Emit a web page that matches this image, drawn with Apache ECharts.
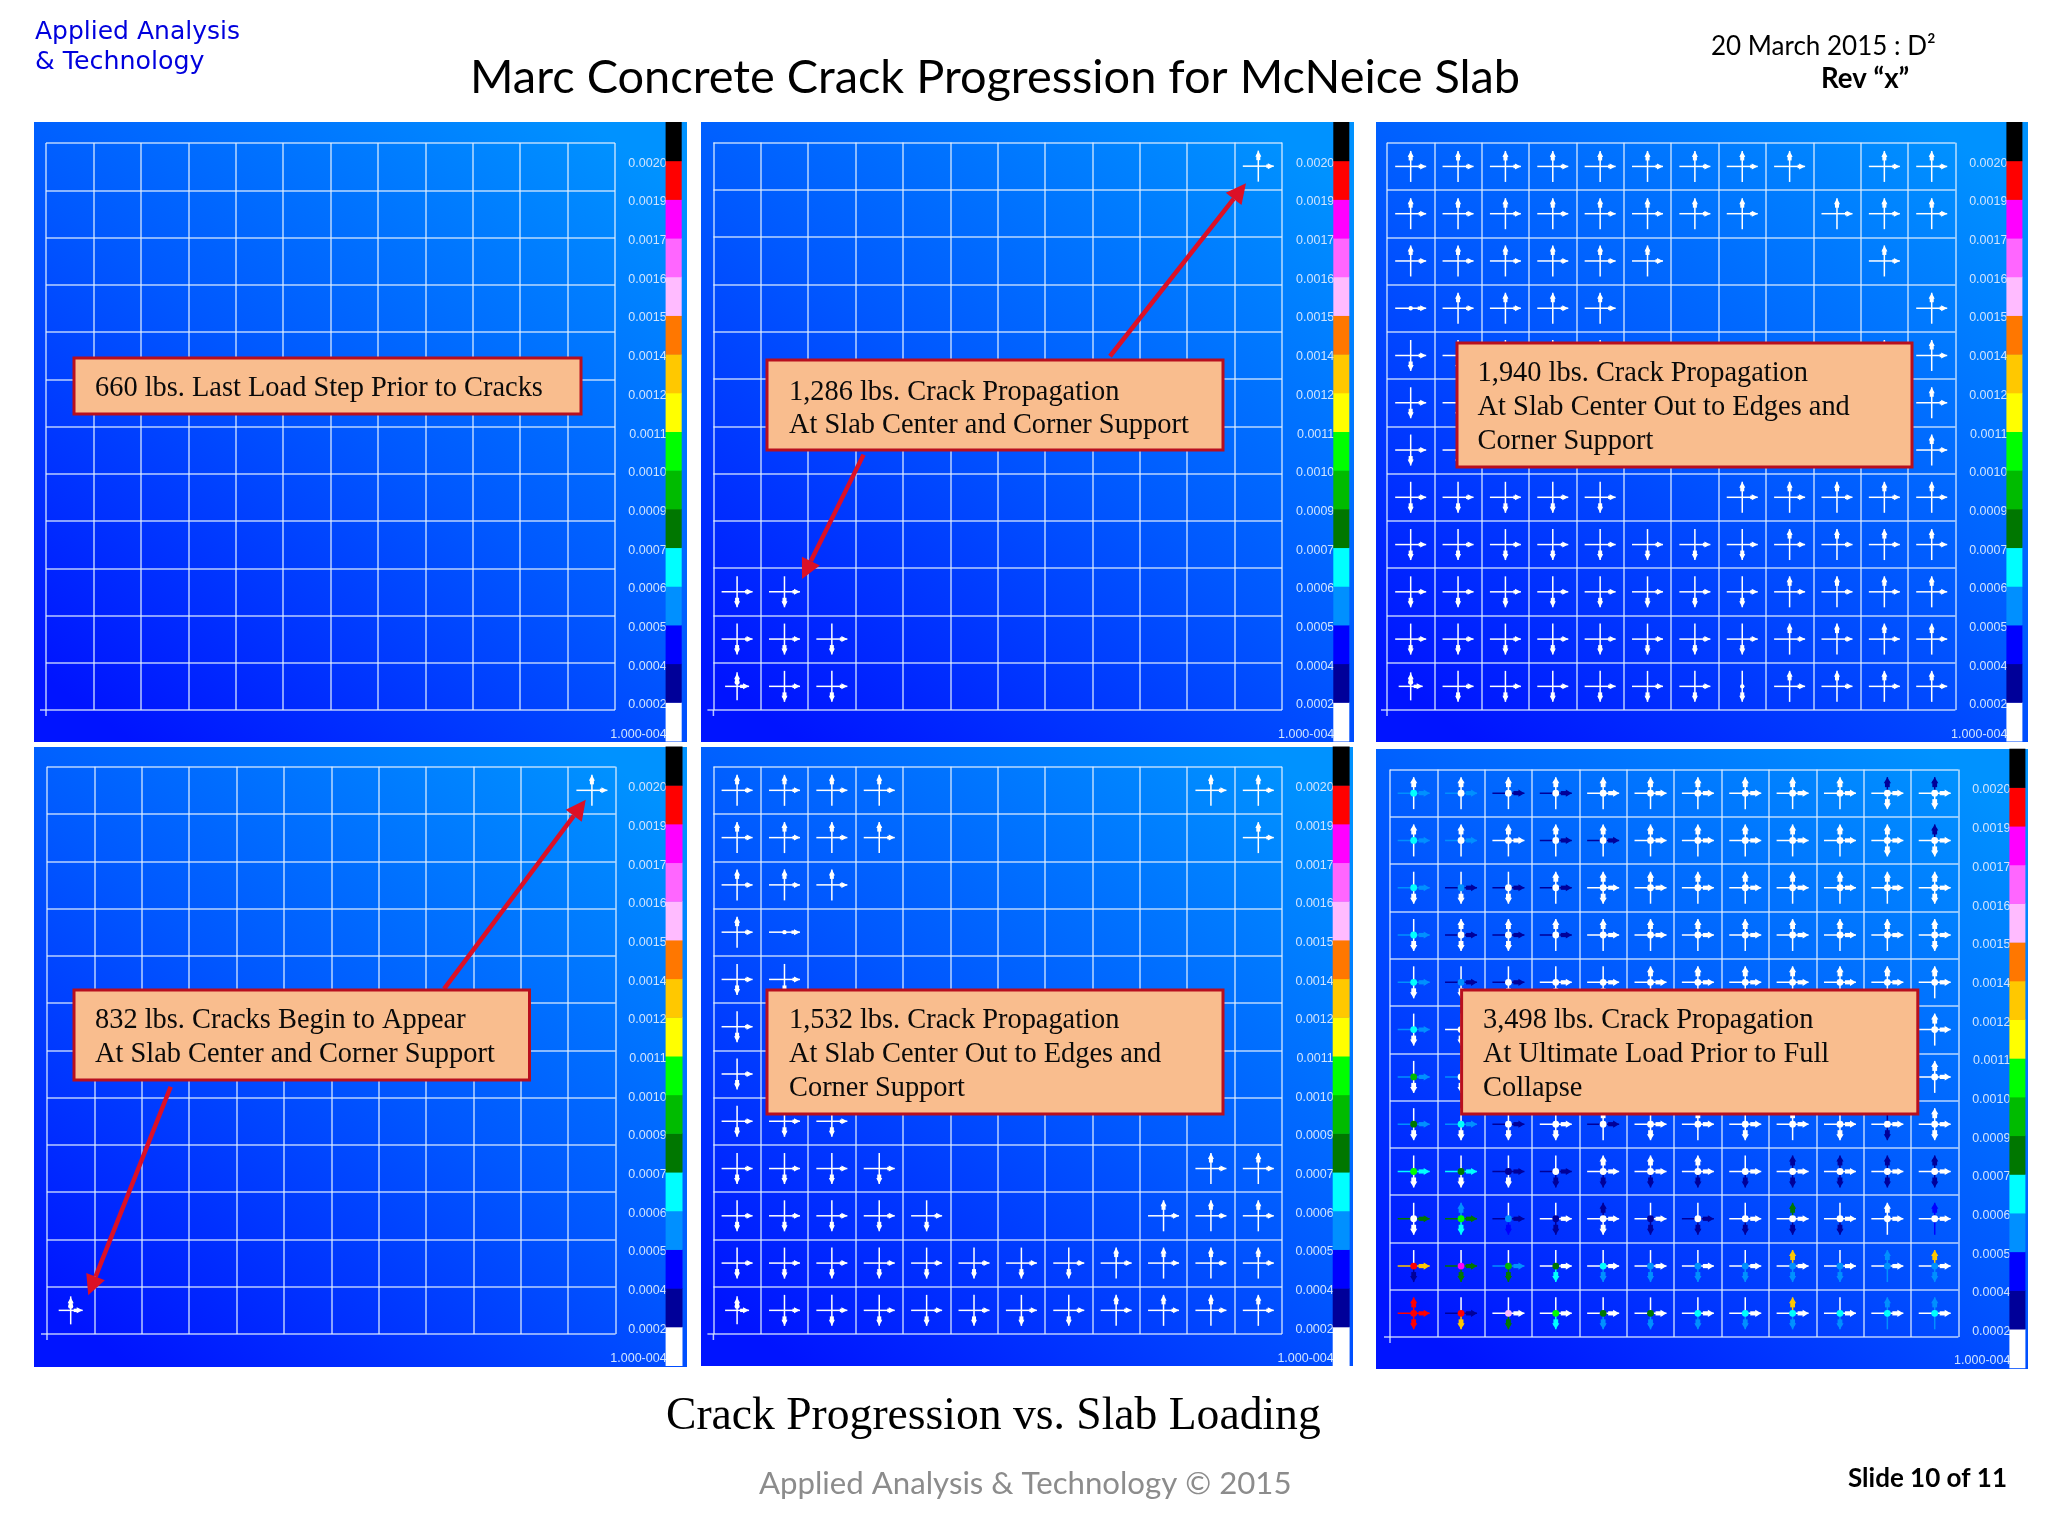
<!DOCTYPE html>
<html><head><meta charset="utf-8">
<style>html,body{margin:0;padding:0;background:#fff}#c{width:2048px;height:1536px}</style>
<script src="https://cdn.jsdelivr.net/npm/echarts@6/dist/echarts.min.js"></script>
</head><body><div id="c"></div>
<script>
// ---------- data ----------
const scaleLabels = ["1.000-004","0.0002","0.0004","0.0005","0.0006","0.0007","0.0009","0.0010","0.0011","0.0012","0.0014","0.0015","0.0016","0.0017","0.0019","0.0020",""];
const scaleColors = ["#ffffff","#000099","#0000ff","#0090ff","#00ffff","#007700","#00bb00","#00ff00","#ffff00","#ffc800","#ff7700","#ffbbff","#ff66ff","#ff00ff","#ff0000","#000000"];

// crack direction per cell, rows top to bottom.
// u up+right, d down+right, b both, s right only, v down only, x corner cluster, . no crack
const cracks660 = ["............","............","............","............","............","............","............","............","............","............","............","............"];
const cracks832 = ["...........u","............","............","............","............","............","............","............","............","............","............","x..........."];
const cracks1286 = ["...........u","............","............","............","............","............","............","............","............","dd..........","ddd.........","xdd........."];
const cracks1532 = ["uuuu......uu","uuuu.......u","uuu.........","us..........","dd..........","ddd.........","ddd.........","ddd.........","dddd......uu","ddddd....uuu","dddddddduuuu","xddddddduuuu"];
const cracks1940 = ["uuuuuuuuu.uu","uuuuuuuu.uuu","uuuuuu....u.","suuuu......u","ddddd.....uu","ddd........u","ddd........u","ddddd..uuuuu","dddddddduuuu","dddddddduuuu","dddddddduuuu","xddddddvuuuu"];
const cracks3498 = ["uuuuuuuuuubb","uuuuuuuuuubb","dddubuuuuuub","dbbuuuuuuuub","ddddduuuuuuu","dd.........u","dd.........u","ddddudududdb","ddddbbbdbbbb","dbddbdddbduu","ddddddddbdub","bdddddddbduu"];
// colour code of the last panel: w white c cyan l light blue n navy B blue g lime G green D dark green r red m magenta o amber p pink
const centers3498 = ["cwwwwwwwwwww","cwwwwwwwwwww","clwwwwwwwwww","cwwwwwwwwwww","clwwwwwwwwww","cwwwwwwwwwww","Gwwwwwwwwwww","Dcwwwwwwwwww","gDnwwwwwwwww","wglnwnwwwwww","rmGDclllllll","rrpgDDcccccc"];
const horiz3498 = ["llnnwwwwwwww","llwnnwwwwwww","lnnnwwwwwwww","lnnnwwwwwwww","lnnwwwwwwwww","lwwwwwwwwwww","llwwwwwwwwww","llnwnwwwwwww","ccnnwwwwwwww","DDnwwwnwwwww","oDlwwwwwwwww","rnwwwwwwwwww"];
const upper3498 = ["wwwwwwwwwwnn","wwwwwwwwwwwn","wwwwwwwwwwww","wwwwwwwwwwww","wwwwwwwwwwww","wwwwwwwwwwww","wwwwwwwwwwww","wwwwwwwwwwnw","wwwwwwwwnnnn","wlwwnwwwDwwB","wwwwwwwwowlo","rwwwwwwwowll"];
const lower3498 = ["wwwwwwwwwwww","wwwwwwwwwwww","wwwwwwwwwwww","wwwwwwwwwwww","wwwwwwwwwwww","wwwwwwwwwwww","wwwwwwwwwwww","wwwwwwwwwwnw","wwwnnnnnnnnn","wcBnwnnnnnwB","nDDcllllllll","roDcllllllll"];

const panelTitles = [
  ["660 lbs. Last Load Step Prior to Cracks"],
  ["1,286 lbs. Crack Propagation","At Slab Center and Corner Support"],
  ["1,940 lbs. Crack Propagation","At Slab Center Out to Edges and","Corner Support"],
  ["832 lbs. Cracks Begin to Appear","At Slab Center and Corner Support"],
  ["1,532 lbs. Crack Propagation","At Slab Center Out to Edges and","Corner Support"],
  ["3,498 lbs. Crack Propagation","At Ultimate Load Prior to Full","Collapse"]
];
// callout leader arrows in slab-cell units [fromX, fromY, toX, toY]
const arrows1286 = [[8.37,7.48,11.24,11.14],[3.17,5.40,1.87,2.77]];
const arrows832 = [[8.38,7.30,11.37,11.30],[2.61,5.23,0.87,0.82]];
const cornerMark = [[0,0]];

// ---------- layout ----------
const panels = [
  {box:[34,122,687,742],  grid:[46,143,615,710],     bar:[665.6,122,681.7,741],   call:[74,358,581,414],   textX:95,  lines:[387.2], cracks:cracks660},
  {box:[701,122,1354,742],grid:[713.4,142.5,1282,710],bar:[1333.3,122,1349.3,741],call:[767,360,1223,450], textX:789, lines:[390.7,424.2], cracks:cracks1286, arrows:arrows1286},
  {box:[1376,122,2028,742],grid:[1387,142.8,1955.4,710],bar:[2006.4,122,2022.4,741],call:[1457,343,1912,467],textX:1477.6,lines:[372,406,440], cracks:cracks1940},
  {box:[34,747,687,1367],  grid:[47,766.7,615.6,1334],bar:[665.6,746.5,682.5,1365.5],call:[74,990,529.5,1080],textX:95,lines:[1019,1053], cracks:cracks832, arrows:arrows832},
  {box:[701,747,1353,1366],grid:[713.4,766.7,1282,1334],bar:[1332.7,746.5,1349.6,1365.5],call:[767,990,1223,1114],textX:789,lines:[1019,1053,1087], cracks:cracks1532},
  {box:[1376,749,2028,1369],grid:[1390,769.5,1958.4,1337],bar:[2009.4,748.7,2025.4,1367.7],call:[1461.6,990,1917.8,1114],textX:1483,lines:[1018.7,1052.6,1086.6], cracks:cracks3498, rich:true}
];
const paletteMap = {w:'#ffffff',c:'#00ffff',l:'#0090ff',n:'#000099',B:'#0000ff',g:'#00ff00',G:'#00bb00',D:'#007700',r:'#ff0000',m:'#ff00ff',o:'#ffc800',p:'#ffbbff'};
const gridLine = 'rgba(225,238,255,0.82)';

const sans = 'Lato', serif = '"Liberation Serif"', labelFont = '"Liberation Sans"';
function txt(text,x,y,size,family,color,extra){
  extra = extra||{};
  return {type:'text',x:x,y:y,z:100,silent:true,
    style:{text:text,fontSize:size,fontFamily:family,fontWeight:extra.w||'normal',fill:color,align:extra.align||'left',verticalAlign:'middle'}};
}

const grids=[],xAxes=[],yAxes=[],series=[];
const graphics=[];

panels.forEach((p,i)=>{
  graphics.push({type:'rect',z:-10,silent:true,shape:{x:p.box[0],y:p.box[1],width:p.box[2]-p.box[0],height:p.box[3]-p.box[1]},
    style:{fill:{type:'linear',x:0.15,y:1,x2:0.85,y2:0,colorStops:[{offset:0,color:'#0014ff'},{offset:0.5,color:'#0058ff'},{offset:1,color:'#0092ff'}]}}});

  // slab grid
  const gi=grids.length;
  grids.push({left:p.grid[0],top:p.grid[1],width:p.grid[2]-p.grid[0],height:p.grid[3]-p.grid[1],containLabel:false,show:false});
  const split={show:true,lineStyle:{color:gridLine,width:1.5}};
  xAxes.push({type:'value',gridIndex:gi,min:0,max:12,interval:1,axisLabel:{show:false},axisLine:{show:false},axisTick:{show:false},splitLine:split});
  yAxes.push({type:'value',gridIndex:gi,min:0,max:12,interval:1,axisLabel:{show:false},axisLine:{show:false},axisTick:{show:false},splitLine:split});

  // small origin marks at the lower-left corner of the slab
  series.push({type:'custom',name:'origin'+i,xAxisIndex:gi,yAxisIndex:gi,z:3,clip:false,silent:true,data:cornerMark,
    renderItem:(params,api)=>{
      const o=api.coord([api.value(0),api.value(1)]);
      return {type:'group',children:[
        {type:'line',shape:{x1:o[0]-6,y1:o[1],x2:o[0],y2:o[1]},style:{stroke:gridLine,lineWidth:1.5}},
        {type:'line',shape:{x1:o[0],y1:o[1],x2:o[0],y2:o[1]+6},style:{stroke:gridLine,lineWidth:1.5}}
      ]};
    }});

  const items=[];
  p.cracks.forEach((row,r)=>{
    for(let c=0;c<12;c++){
      const d=row[c];
      if(!d||d==='.')continue;
      items.push(p.rich?{col:c,row:r,d:d,ce:centers3498[r][c],h:horiz3498[r][c],up:upper3498[r][c],v:lower3498[r][c]}:{col:c,row:r,d:d});
    }
  });
  series.push({type:'custom',name:'cracks'+i,xAxisIndex:gi,yAxisIndex:gi,z:4,clip:false,silent:true,
    data:items.map(it=>[it.col+0.5,11.5-it.row]),
    renderItem:(params,api)=>{
      const it=items[params.dataIndex];
      const pt=api.coord([api.value(0),api.value(1)]);
      return {type:'group',x:pt[0],y:pt[1],children:glyph(it,!!p.rich)};
    }});

  if(p.arrows){
    series.push({type:'custom',name:'leaders'+i,xAxisIndex:gi,yAxisIndex:gi,z:6,clip:false,silent:true,
      data:p.arrows,
      renderItem:(params,api)=>{
        const a=api.coord([api.value(0),api.value(1)]),b=api.coord([api.value(2),api.value(3)]);
        const dx=b[0]-a[0],dy=b[1]-a[1],L=Math.hypot(dx,dy),ux=dx/L,uy=dy/L,hl=20,hw=10;
        const bx=b[0]-ux*hl,by=b[1]-uy*hl;
        return {type:'group',children:[
          {type:'line',shape:{x1:a[0],y1:a[1],x2:bx,y2:by},style:{stroke:'#dc1026',lineWidth:4.5}},
          {type:'polygon',shape:{points:[[b[0],b[1]],[bx-uy*hw,by+ux*hw],[bx+uy*hw,by-ux*hw]]},style:{fill:'#dc1026'}}
        ]};
      }});
  }

  // colour scale: bars in one grid, tick labels on an axis set just below the band edges
  const gb=grids.length;
  grids.push({left:p.bar[0],top:p.bar[1],width:p.bar[2]-p.bar[0],height:p.bar[3]-p.bar[1],show:false});
  xAxes.push({type:'value',gridIndex:gb,min:0,max:1,show:false});
  yAxes.push({type:'value',gridIndex:gb,min:0,max:16,interval:1,show:false});
  series.push({type:'custom',name:'scale'+i,xAxisIndex:gb,yAxisIndex:gb,z:3,silent:true,
    data:scaleColors.map((c,k)=>[0,k,1,k+1]),
    renderItem:(params,api)=>{
      const a=api.coord([api.value(0),api.value(1)]),b=api.coord([api.value(2),api.value(3)]);
      return {type:'rect',shape:{x:a[0],y:b[1],width:b[0]-a[0],height:a[1]-b[1]+0.5},style:{fill:scaleColors[params.dataIndex]}};
    }});
  const gl=grids.length;
  grids.push({left:p.bar[0],top:p.bar[1]+2.6,width:p.bar[2]-p.bar[0],height:p.bar[3]-p.bar[1],show:false});
  xAxes.push({type:'value',gridIndex:gl,min:0,max:1,show:false});
  yAxes.push({type:'value',gridIndex:gl,min:0,max:16,interval:1,position:'left',axisLine:{show:false},axisTick:{show:false},splitLine:{show:false},
    axisLabel:{show:true,margin:-1,fontSize:12.5,fontFamily:labelFont,color:'#cfe4ff',padding:[0,0,3,0],verticalAlignMinLabel:'bottom',
      showMinLabel:true,showMaxLabel:true,hideOverlap:false,formatter:(v)=>scaleLabels[Math.round(v)]}});

  // callout
  const c=p.call;
  graphics.push({type:'rect',z:90,silent:true,shape:{x:c[0],y:c[1],width:c[2]-c[0],height:c[3]-c[1]},style:{fill:'#f9bd8e',stroke:'#b80f1e',lineWidth:3}});
  panelTitles[i].forEach((t,k)=>graphics.push(txt(t,p.textX,p.lines[k]+1.5,28.4,serif,'#0a0a0a')));
});

function glyph(it,rich){
  const col=k=>paletteMap[k]||'#ffffff';
  const hc=rich?col(it.h):'#fff', vc=rich?col(it.v):'#fff', uc=rich?col(it.up):'#fff';
  const out=[];
  const line=(x1,y1,x2,y2,s,w)=>out.push({type:'line',shape:{x1,y1,x2,y2},style:{stroke:s,lineWidth:w||1.5}});
  const tri=(pts,s)=>out.push({type:'polygon',shape:{points:pts},style:{fill:s}});
  const w=rich?4.2:3.4;
  const tw=rich?3.6:3;
  const headR=(x0,x1,c)=>{line(x0,0,x1-4,0,c,w);tri([[x1,0],[x1-6,-tw],[x1-6,tw]],c);};
  const headU=(y0,y1,c)=>{line(0,y0,0,y1+4,c,w+0.6);tri([[0,y1],[-tw,y1+6],[tw,y1+6]],c);};
  const headD=(y0,y1,c)=>{line(0,y0,0,y1-4,c,w+0.6);tri([[0,y1],[-tw,y1-6],[tw,y1-6]],c);};
  const a=rich?16:15.5;
  if(it.d==='x'){
    line(-12,0,12,0,'#fff'); line(0,-14,0,14,'#fff');
    headR(3,12,'#fff'); headU(-3,-13,'#fff');
    out.push({type:'circle',shape:{cx:0,cy:-4,r:2.5},style:{fill:'#fff'}});
    return out;
  }
  if(it.d==='s'){
    line(-a,0,a,0,hc); headR(7,a,hc);
    out.push({type:'circle',shape:{cx:0,cy:0,r:2.2},style:{fill:'#fff'}});
    return out;
  }
  if(it.d==='v'){
    line(0,-a,0,a,vc); headD(6,a,vc);
    out.push({type:'circle',shape:{cx:0,cy:0,r:2.2},style:{fill:'#fff'}});
    return out;
  }
  line(-a,0,a,0,hc); line(0,-a,0,0,uc); line(0,0,0,a,vc);
  headR(rich?5:8,a,hc);
  if(it.d==='u'||it.d==='b') headU(-6,-a,uc);
  if(it.d==='d'||it.d==='b') headD(6,a,vc);
  if(rich) out.push({type:'circle',shape:{cx:0,cy:0,r:3.4},style:{fill:col(it.ce)}});
  return out;
}

// slide furniture
graphics.push(txt("Applied Analysis",35,32,25,'"DejaVu Sans"','#0000dd'));
graphics.push(txt("& Technology",35,62,25.3,'"DejaVu Sans"','#0000dd'));
graphics.push(txt("Marc Concrete Crack Progression for McNeice Slab",470,78,46.9,sans,'#000000'));
graphics.push(txt("20 March 2015 : D\u00B2",1711,46.5,26,sans,'#000000'));
graphics.push(txt("Rev \u201Cx\u201D",1821,79,27.6,sans,'#000000',{w:'bold'}));
graphics.push(txt("Crack Progression vs. Slab Loading",666,1417.5,45.6,serif,'#000000'));
graphics.push(txt("Applied Analysis & Technology \u00A9 2015",759,1484,31.2,sans,'#8c8c8c'));
graphics.push(txt("Slide 10 of 11",1848,1479,26,sans,'#000000',{w:'bold'}));

const chart=echarts.init(document.getElementById('c'),null,{renderer:'canvas',width:2048,height:1536});
chart.setOption({animation:false,backgroundColor:'#ffffff',grid:grids,xAxis:xAxes,yAxis:yAxes,series:series,graphic:{elements:graphics}});
</script></body></html>
